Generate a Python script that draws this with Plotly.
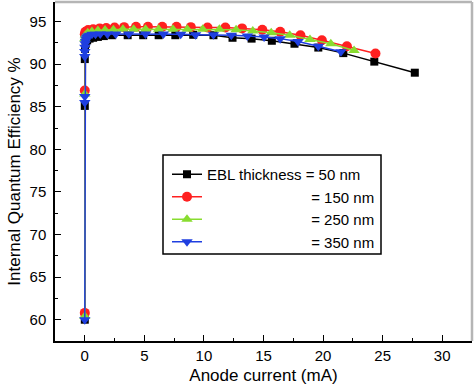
import plotly.graph_objects as go

# ---- data ----
x_50 = [0, 0, 0, 0.02, 0.08, 0.2, 0.4, 0.7, 1.1, 1.6, 2.3, 3.6, 4.9, 6.2, 7.6, 9.1, 10.8, 12.4, 14.0, 15.7, 17.6, 19.6, 21.7, 24.3, 27.7]
y_50 = [60.0, 85.1, 90.6, 91.8, 92.4, 92.8, 93.0, 93.1, 93.2, 93.3, 93.4, 93.4, 93.4, 93.4, 93.4, 93.45, 93.4, 93.1, 93.0, 92.75, 92.4, 91.95, 91.3, 90.3, 89.0]

x_150 = [0, 0, 0, 0.05, 0.28, 0.7, 1.25, 1.8, 2.5, 3.3, 4.3, 5.3, 6.5, 7.7, 8.9, 10.3, 11.8, 13.2, 14.9, 16.4, 18.1, 19.9, 22.0, 24.4]
y_150 = [60.8, 86.9, 93.5, 93.8, 94.0, 94.1, 94.2, 94.25, 94.3, 94.35, 94.4, 94.4, 94.4, 94.4, 94.35, 94.3, 94.3, 94.2, 94.05, 93.8, 93.4, 92.8, 92.1, 91.25]

x_250 = [0, 0, 0, 0.05, 0.25, 0.6, 1.1, 1.7, 2.4, 3.2, 4.1, 5.1, 6.2, 7.4, 8.6, 9.9, 11.3, 12.7, 14.1, 15.65, 17.2, 18.9, 20.65, 22.6]
y_250 = [60.4, 86.5, 93.0, 93.4, 93.7, 93.85, 93.95, 94.0, 94.05, 94.1, 94.1, 94.1, 94.1, 94.1, 94.1, 94.1, 94.1, 94.05, 93.9, 93.7, 93.4, 92.9, 92.4, 91.6]

x_350 = [0, 0, 0, 0, 0, 0.01, 0.03, 0.06, 0.1, 0.16, 0.25, 0.4, 0.6, 0.9, 1.3, 1.9, 2.6, 3.7, 5.1, 6.6, 8.05, 9.3, 10.8, 12.3, 13.65, 15.05, 16.4, 17.9, 19.6, 21.5]
y_350 = [60.0, 85.5, 86.2, 90.9, 91.5, 92.0, 92.4, 92.7, 92.95, 93.15, 93.3, 93.4, 93.5, 93.5, 93.55, 93.55, 93.55, 93.55, 93.55, 93.55, 93.5, 93.45, 93.45, 93.4, 93.3, 93.2, 93.0, 92.65, 92.1, 91.45]

PAD = "\u00a0" * 25
names = ["EBL thickness = 50 nm",
         PAD + "= 150 nm",
         PAD + "= 250 nm",
         PAD + "= 350 nm"]

x_ticks = [0, 5, 10, 15, 20, 25, 30]
y_ticks = [60, 65, 70, 75, 80, 85, 90, 95]

FONT = "Liberation Sans, Arial, sans-serif"

fig = go.Figure()
series = [
    (x_50, y_50, names[0], "#000000", "square", 8),
    (x_150, y_150, names[1], "#ff2020", "circle", 10),
    (x_250, y_250, names[2], "#88dc30", "triangle-up", 10),
    (x_350, y_350, names[3], "#1f3fe0", "triangle-down", 10),
]
for xs, ys, nm, col, sym, sz in series:
    fig.add_trace(go.Scatter(
        x=xs, y=ys, name=nm, mode="lines+markers",
        line=dict(color=col, width=1.5),
        marker=dict(symbol=sym, size=sz, color=col, line=dict(width=0)),
    ))

W, H = 474, 388
ml, mr, mt, mb = 55, 2, 2, 47
pw, ph = W - ml - mr, H - mt - mb

def px_x(p):
    return (p - ml) / pw

def px_y(p):
    return (H - mb - p) / ph

fig.update_layout(
    width=W, height=H,
    margin=dict(l=ml, r=mr, t=mt, b=mb),
    paper_bgcolor="white", plot_bgcolor="white",
    font=dict(family=FONT, size=15, color="black"),
    showlegend=True,
    legend=dict(
        x=px_x(167), y=px_y(158), xanchor="left", yanchor="top",
        bgcolor="rgba(0,0,0,0)", borderwidth=0,
        font=dict(size=15, family=FONT), itemwidth=30,
        tracegroupgap=0,
    ),
    xaxis=dict(
        range=[-2.5, 32.5], tickvals=x_ticks, ticks="inside", ticklen=6,
        tickwidth=1.2, tickcolor="black", showline=True, linecolor="black",
        linewidth=1.5, showgrid=False, zeroline=False,
        minor=dict(ticks="inside", ticklen=3, tickwidth=1.2, tickcolor="black", dtick=2.5, tick0=2.5),
        tickfont=dict(size=15), ticklabelstandoff=0,
        title=dict(text="Anode current (mA)", font=dict(size=17), standoff=6),
    ),
    yaxis=dict(
        range=[57.5, 97.3], tickvals=y_ticks, ticks="inside", ticklen=6,
        tickwidth=1.2, tickcolor="black", showline=True, linecolor="black",
        linewidth=1.5, showgrid=False, zeroline=False,
        minor=dict(ticks="inside", ticklen=3, tickwidth=1.2, tickcolor="black", dtick=2.5, tick0=2.5),
        tickfont=dict(size=15), ticklabelstandoff=4,
        title=dict(text="Internal Quantum Efficiency %", font=dict(size=17), standoff=5),
    ),
    shapes=[
        dict(type="rect", xref="paper", yref="paper",
             x0=px_x(163), x1=px_x(381), y0=px_y(254), y1=px_y(155),
             line=dict(color="black", width=1.5), fillcolor="rgba(0,0,0,0)"),
        dict(type="line", xref="paper", yref="paper", x0=0, x1=1, y0=1, y1=1,
             line=dict(color="#b5b5b5", width=2.5)),
        dict(type="line", xref="paper", yref="paper", x0=1, x1=1, y0=0, y1=1,
             line=dict(color="#b5b5b5", width=2.5)),
    ],
)

fig.write_html("out.html", config={"displayModeBar": False},
               post_script="document.body.style.margin='0px';")
